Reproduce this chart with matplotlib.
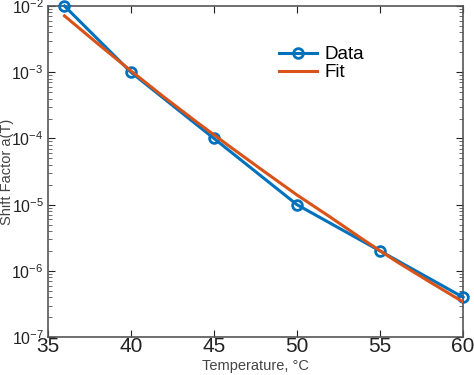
import matplotlib
matplotlib.use("Agg")
import matplotlib.pyplot as plt
from matplotlib.ticker import LogLocator, NullFormatter

# ---------- DATA ----------
temp_data = [36, 40, 45, 50, 55, 60]
shift_data = [1e-2, 1e-3, 1e-4, 1e-5, 2e-6, 4e-7]

temp_fit = [36, 38, 40, 42, 44, 46, 48, 50, 52, 54, 56, 58, 60]
shift_fit = [7.1e-3, 2.7e-3, 1.05e-3, 4.2e-4, 1.74e-4, 7.4e-5, 3.2e-5,
             1.4e-5, 6.5e-6, 2.95e-6, 1.38e-6, 6.8e-7, 3.4e-7]

x_ticks = [35, 40, 45, 50, 55, 60]

BLUE = "#0072BD"
ORANGE = "#D95319"
AXIS = "#555555"

plt.rcParams.update({
    "font.family": ["Liberation Sans", "DejaVu Sans"],
    "mathtext.fontset": "custom",
    "mathtext.rm": "Liberation Sans",
    "mathtext.it": "Liberation Sans:italic",
    "mathtext.bf": "Liberation Sans:bold",
})

fig = plt.figure(figsize=(4.74, 3.75), dpi=100)
ax = fig.add_axes([0.101, 0.101, 0.876, 0.883])

ax.plot(temp_data, shift_data, "-o", color=BLUE, lw=2.2, ms=7,
        mfc="none", mew=2, label="Data", clip_on=False, zorder=3)
ax.plot(temp_fit, shift_fit, "-", color=ORANGE, lw=2.2, label="Fit", zorder=4)

ax.set_yscale("log")
ax.set_xlim(35, 60)
ax.set_ylim(1e-7, 1e-2)
ax.set_xticks(x_ticks)
ax.yaxis.set_major_locator(LogLocator(base=10, numticks=10))
ax.yaxis.set_minor_locator(LogLocator(base=10, subs=range(2, 10), numticks=10))
ax.yaxis.set_minor_formatter(NullFormatter())

ax.tick_params(which="both", direction="in", top=True, right=True, color=AXIS)
ax.tick_params(which="major", length=5, width=0.8)
ax.tick_params(which="minor", length=3, width=0.6)
ax.tick_params(axis="x", labelsize=15, pad=0, colors="#222222")
ax.tick_params(axis="y", labelsize=11.5, pad=3, colors="#222222")
for sp in ax.spines.values():
    sp.set_color(AXIS)
    sp.set_linewidth(1.2)

ax.set_xlabel("Temperature, °C", fontsize=10.5, color="#444444", labelpad=2)
ax.set_ylabel("Shift Factor a(T)", fontsize=10.5, color="#444444")
ax.yaxis.set_label_coords(-0.082, 0.5)

ax.legend(loc="upper left", bbox_to_anchor=(0.517, 0.93), frameon=False,
          fontsize=13.5, handlelength=2.0, handletextpad=0.4, labelspacing=0.05)

fig.savefig("out.png", dpi=100)
